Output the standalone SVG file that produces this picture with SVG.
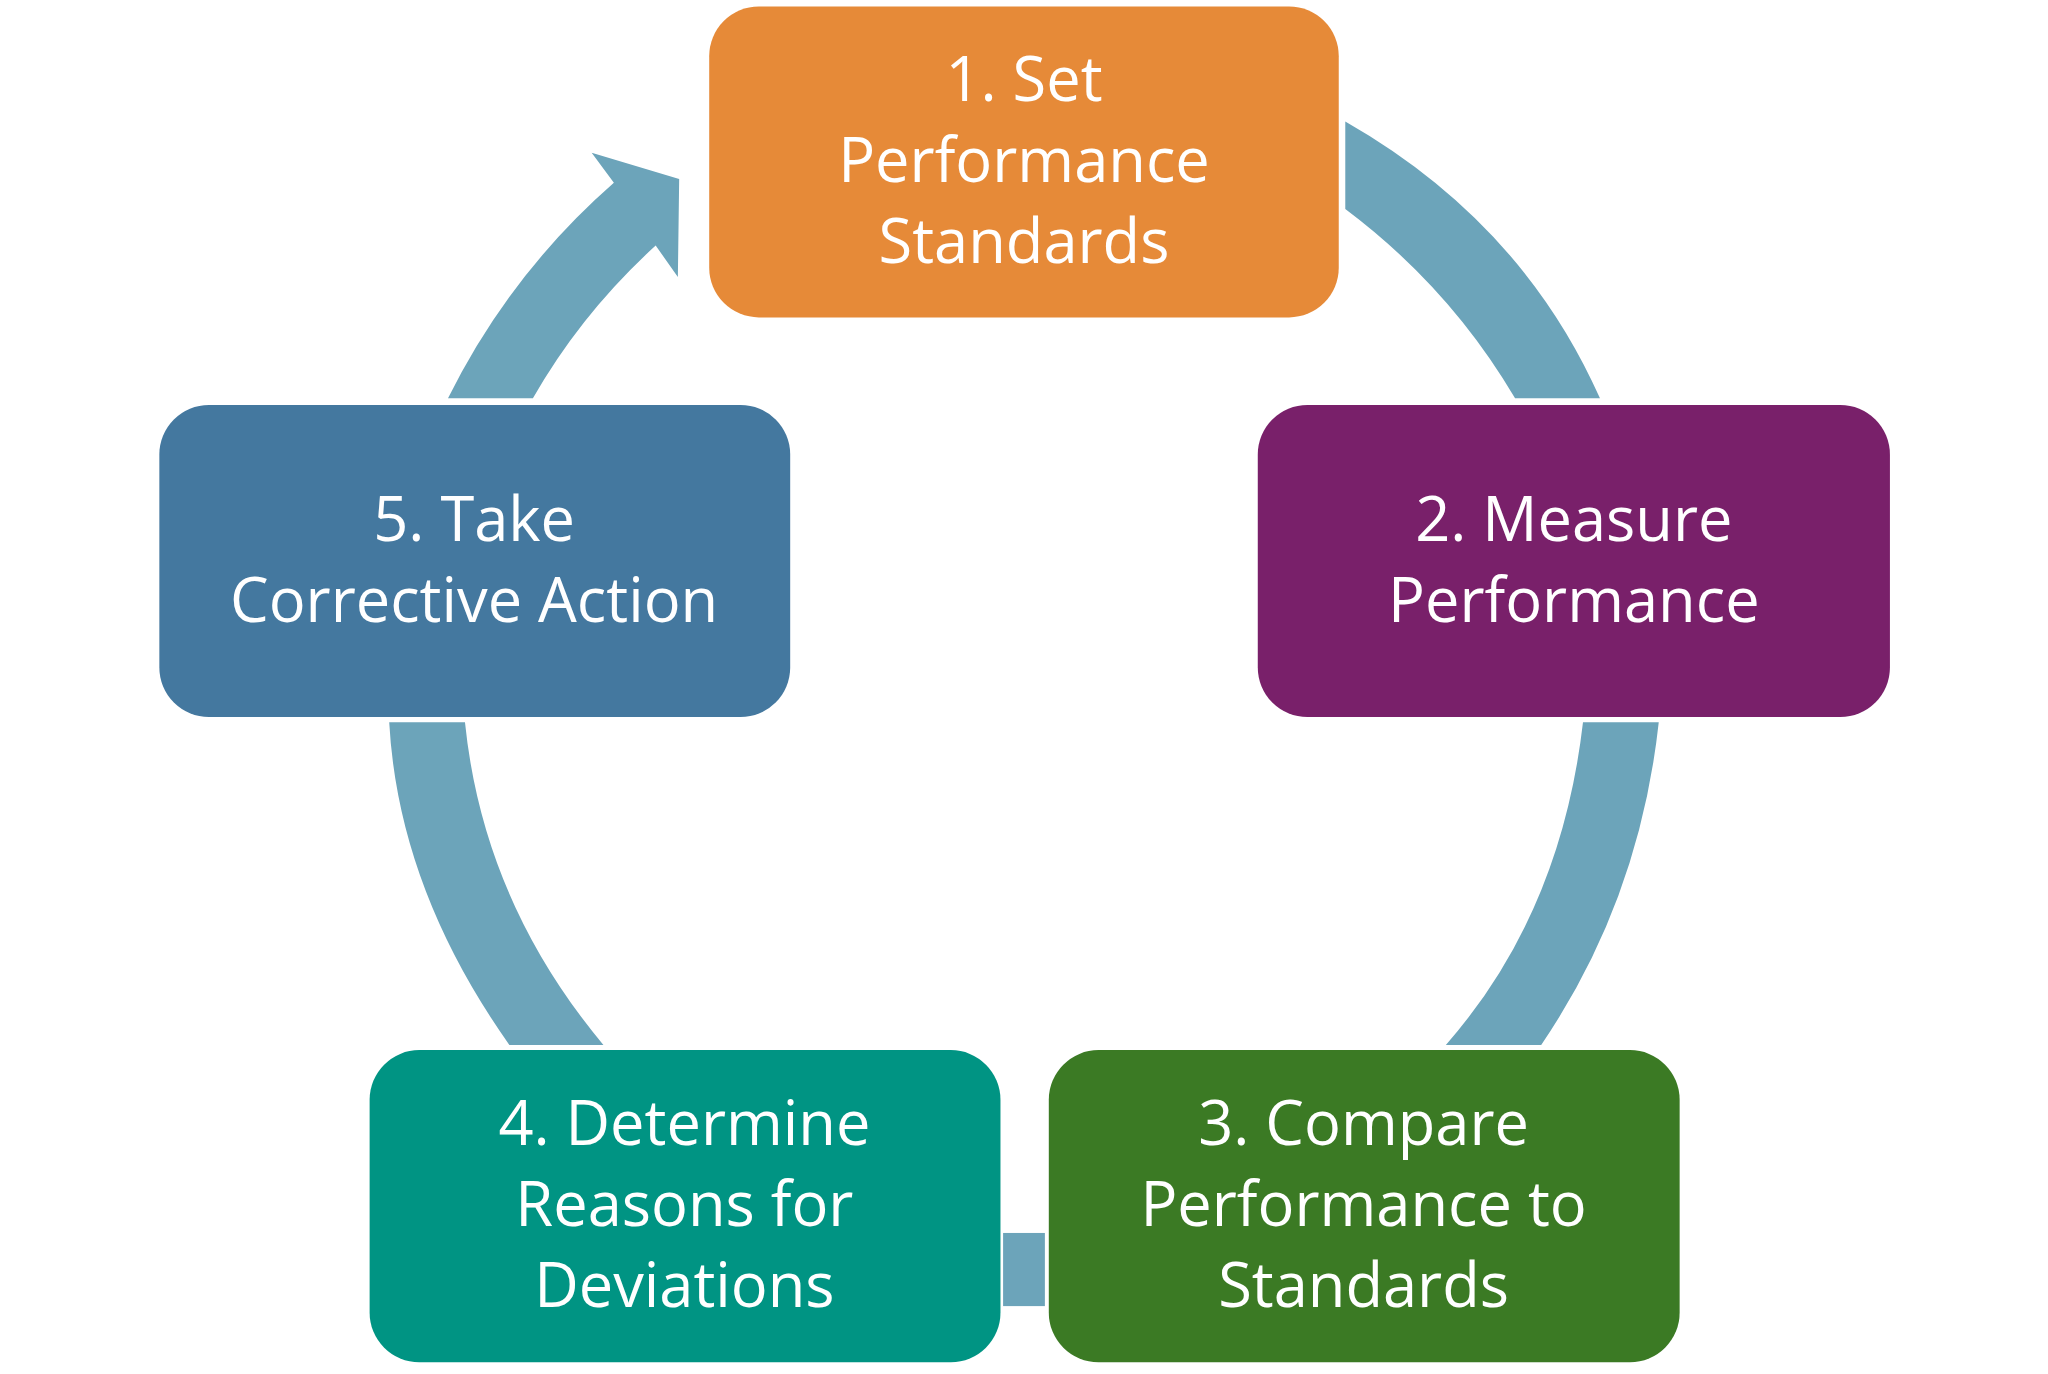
<svg xmlns="http://www.w3.org/2000/svg" width="2048" height="1374" viewBox="0 0 2048 1374">
<style>
.lbl{font-family:"Open Sans","Noto Sans",sans-serif;font-size:47px;fill:#fff;text-anchor:middle}
.conn{fill:#6CA4BA}
</style>
<rect width="2048" height="1374" fill="#fff"/>
<g transform="scale(1.3061)">
<g id="connectors">
<path class="conn" d="M1030,93 Q1165,170 1225,305 L1160,305 Q1110,220 1030,160 Z"/>
<path class="conn" d="M1270,553 Q1255,690 1180,800 L1107,800 Q1195,700 1212,553 Z"/>
<rect class="conn" x="768" y="944" width="32" height="56"/>
<path class="conn" d="M390,800 Q305,680 298,553 L356,553 Q370,690 462,800 Z"/>
<path class="conn" d="M343,305 Q390,210 470,140 L453,117 L520,137 L519,212 L502,188 Q445,240 408,305 Z"/>
</g>
<g id="node1"><rect x="543" y="5" width="482" height="238" rx="38" fill="#E68A38"/>
<text class="lbl" x="784" y="77">1. Set</text><text class="lbl" x="784" y="139">Performance</text><text class="lbl" x="784" y="201">Standards</text></g>
<g id="node2"><rect x="963" y="310" width="484" height="239" rx="38" fill="#79206A"/>
<text class="lbl" x="1205" y="414">2. Measure</text><text class="lbl" x="1205" y="476">Performance</text></g>
<g id="node3"><rect x="803" y="804" width="483" height="239" rx="38" fill="#3B7A24"/>
<text class="lbl" x="1044" y="877">3. Compare</text><text class="lbl" x="1044" y="939">Performance to</text><text class="lbl" x="1044" y="1001">Standards</text></g>
<g id="node4"><rect x="283" y="804" width="483" height="239" rx="38" fill="#009483"/>
<text class="lbl" x="524" y="877">4. Determine</text><text class="lbl" x="524" y="939">Reasons for</text><text class="lbl" x="524" y="1001">Deviations</text></g>
<g id="node5"><rect x="122" y="310" width="483" height="239" rx="38" fill="#44789F"/>
<text class="lbl" x="363" y="414">5. Take</text><text class="lbl" x="363" y="476">Corrective Action</text></g>
</g>
</svg>
